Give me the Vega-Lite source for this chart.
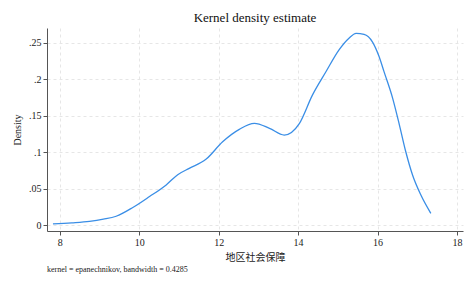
{
  "$schema": "https://vega.github.io/schema/vega-lite/v6.json",
  "padding": {"left": 12, "top": 12, "right": 10, "bottom": 10},
  "background": "white",
  "bounds": "flush",
  "title": {
    "text": "kernel = epanechnikov, bandwidth = 0.4285",
    "orient": "bottom",
    "anchor": "start",
    "frame": "group",
    "font": "Liberation Serif",
    "fontSize": 8,
    "fontWeight": "normal",
    "color": "#222222",
    "baseline": "top",
    "offset": 4
  },
  "vconcat": [
    {
      "width": 416,
      "height": 203,
      "title": {
        "text": "Kernel density estimate",
        "anchor": "middle",
        "frame": "group",
        "font": "Liberation Serif",
        "fontSize": 13,
        "fontWeight": "normal",
        "color": "#111111",
        "baseline": "alphabetic",
        "offset": -7
      },
      "data": {
        "values": [
          {"x": 7.83, "density": 0.0015},
          {"x": 8.3, "density": 0.003},
          {"x": 8.75, "density": 0.005},
          {"x": 9.1, "density": 0.008},
          {"x": 9.42, "density": 0.012},
          {"x": 9.84, "density": 0.024},
          {"x": 10.26, "density": 0.039},
          {"x": 10.68, "density": 0.055},
          {"x": 10.97, "density": 0.069},
          {"x": 11.26, "density": 0.0777},
          {"x": 11.68, "density": 0.09},
          {"x": 12.1, "density": 0.1141},
          {"x": 12.52, "density": 0.1311},
          {"x": 12.9, "density": 0.1393},
          {"x": 13.28, "density": 0.1325},
          {"x": 13.65, "density": 0.1233},
          {"x": 14.03, "density": 0.139},
          {"x": 14.36, "density": 0.178},
          {"x": 14.7, "density": 0.21},
          {"x": 15.03, "density": 0.24},
          {"x": 15.28, "density": 0.256},
          {"x": 15.46, "density": 0.2626},
          {"x": 15.66, "density": 0.2612},
          {"x": 15.87, "density": 0.251},
          {"x": 16.04, "density": 0.2305},
          {"x": 16.16, "density": 0.2105},
          {"x": 16.38, "density": 0.1736},
          {"x": 16.55, "density": 0.137},
          {"x": 16.71, "density": 0.1004},
          {"x": 16.88, "density": 0.0685},
          {"x": 17.09, "density": 0.041},
          {"x": 17.34, "density": 0.016}
        ]
      },
      "mark": {"type": "line", "color": "#3a8ee6", "strokeWidth": 1.3, "interpolate": "monotone"},
      "encoding": {
        "x": {
          "field": "x",
          "type": "quantitative",
          "scale": {"domain": [7.68, 18.15], "nice": false, "zero": false},
          "axis": {
            "title": "地区社会保障",
            "values": [8, 10, 12, 14, 16, 18],
            "titleFont": "Noto Sans CJK SC",
            "titleFontSize": 10,
            "titleFontWeight": "normal",
            "titleColor": "#222222",
            "titlePadding": 5
          }
        },
        "y": {
          "field": "density",
          "type": "quantitative",
          "scale": {"domain": [-0.0082, 0.27], "nice": false, "zero": false},
          "axis": {
            "title": "Density",
            "values": [0, 0.05, 0.1, 0.15, 0.2, 0.25],
            "labelExpr": "datum.value == 0 ? '0' : slice(format(datum.value, '~g'), 1)",
            "titleFont": "Liberation Serif",
            "titleFontSize": 10,
            "titleFontWeight": "normal",
            "titleColor": "#222222",
            "titlePadding": 6
          }
        }
      }
    }
  ],
  "config": {
    "view": {"stroke": null},
    "concat": {"spacing": 0},
    "axis": {
      "grid": true,
      "gridColor": "#e6e6e6",
      "gridDash": [3, 3],
      "gridWidth": 1,
      "domainColor": "#555555",
      "domainWidth": 1,
      "tickColor": "#555555",
      "tickSize": 4,
      "labelFont": "Liberation Serif",
      "labelFontSize": 10,
      "labelColor": "#222222",
      "labelPadding": 2
    }
  }
}
